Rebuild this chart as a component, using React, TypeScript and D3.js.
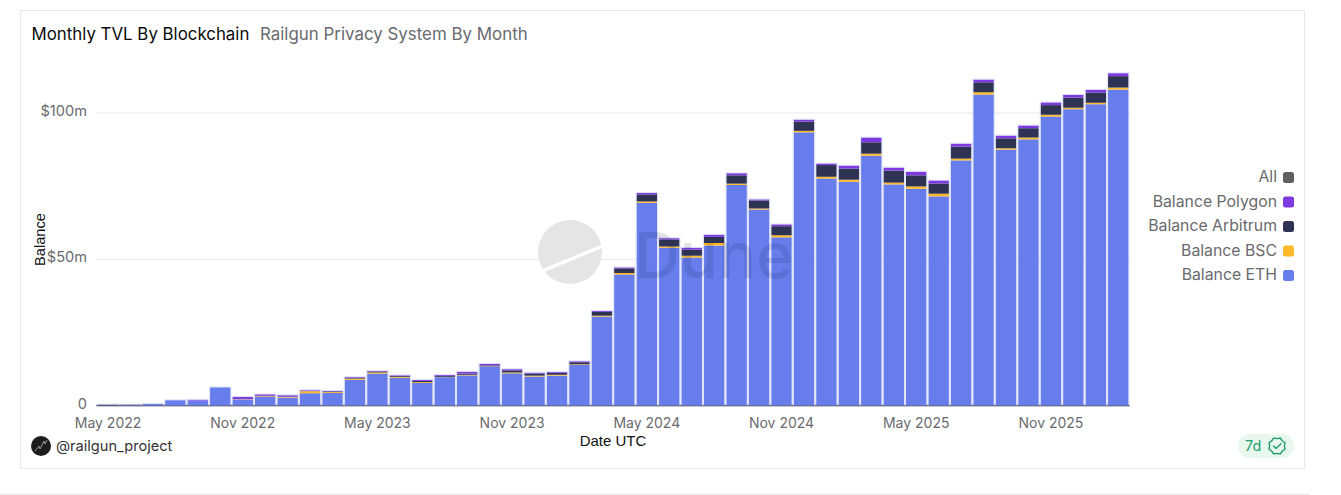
import React from "react";
import * as d3 from "d3";

const months = [
  "May 2022","Jun 2022","Jul 2022","Aug 2022","Sep 2022","Oct 2022","Nov 2022","Dec 2022",
  "Jan 2023","Feb 2023","Mar 2023","Apr 2023","May 2023","Jun 2023","Jul 2023","Aug 2023","Sep 2023","Oct 2023","Nov 2023","Dec 2023",
  "Jan 2024","Feb 2024","Mar 2024","Apr 2024","May 2024","Jun 2024","Jul 2024","Aug 2024","Sep 2024","Oct 2024","Nov 2024","Dec 2024",
  "Jan 2025","Feb 2025","Mar 2025","Apr 2025","May 2025","Jun 2025","Jul 2025","Aug 2025","Sep 2025","Oct 2025","Nov 2025","Dec 2025",
  "Jan 2026","Feb 2026",
];
const balanceEth = [0.1,0.15,0.5,1.8,1.7,6.2,2.1,3.0,2.7,4.2,4.3,8.8,10.9,9.5,7.7,9.7,10.3,13.3,11,9.9,10.2,13.9,30.4,44.8,69.3,53.9,50.6,54.7,75.4,67,57.5,93.4,77.6,76.5,85.4,75.6,74.1,71.5,83.8,106.3,87.5,91,98.8,101.3,103,108];
const balanceBsc = [0,0,0,0,0,0,0.1,0.2,0.2,0.7,0.3,0.4,0.4,0.3,0.3,0.1,0.2,0.1,0.3,0.3,0.3,0.2,0.3,0.5,0.45,0.45,0.6,0.85,0.45,0.35,0.7,0.5,0.6,0.7,0.7,0.6,0.8,0.9,0.6,0.8,0.45,0.6,0.6,0.5,0.5,0.7];
const balanceArbitrum = [0.15,0.1,0,0,0,0,0,0.1,0.1,0,0.2,0.3,0.3,0.3,0.4,0.3,0.4,0.3,0.7,0.7,0.6,0.7,1.3,1.6,2.4,2.4,2.1,2.1,2.85,2.75,3.1,3.2,4,3.8,3.9,4.1,3.8,3.5,4.1,3.4,3.4,3.2,3.3,3.5,3.5,3.9];
const balancePolygon = [0,0,0,0,0.25,0,0.7,0.5,0.5,0.3,0.2,0.2,0.2,0.2,0.3,0.3,0.6,0.5,0.4,0.3,0.3,0.3,0.3,0.3,0.5,0.45,0.6,0.7,0.7,0.35,0.6,0.6,0.5,1,1.6,1,1.2,1,1,0.9,0.9,0.9,0.9,0.9,0.9,1];
const seriesKeys = ["eth","bsc","arb","poly"];
const seriesColors: Record<string,string> = { eth:"#667deb", bsc:"#fdb927", arb:"#2e3353", poly:"#7c3ae0" };
const legendItems = [
  { label:"All", color:"#5f5f63" },
  { label:"Balance Polygon", color:"#7c3ae0" },
  { label:"Balance Arbitrum", color:"#2e3353" },
  { label:"Balance BSC", color:"#fdb927" },
  { label:"Balance ETH", color:"#667deb" },
];
const xTickLabels = ["May 2022","Nov 2022","May 2023","Nov 2023","May 2024","Nov 2024","May 2025","Nov 2025"];
const yTicks = [
  { value:0, label:"0" },
  { value:50, label:"$50m" },
  { value:100, label:"$100m" },
];

const ui = "Inter, 'Noto Sans', sans-serif";
const gray = "#6a6a6e";

export default function App() {
  const rows = months.map((m,i)=>({ month:m, eth:balanceEth[i], bsc:balanceBsc[i], arb:balanceArbitrum[i], poly:balancePolygon[i] }));
  const stacked = d3.stack<any>().keys(seriesKeys)(rows);
  const x = d3.scaleBand<string>().domain(months).range([96.8,1129.5]).paddingInner(0.09).paddingOuter(0.045);
  const y = d3.scaleLinear().domain([0,100]).range([405.5,113]);
  const w = x.bandwidth();
  return (
    <div style={{position:"fixed",left:0,top:0,width:1341,height:495,background:"#fff"}}>
      <svg width={1341} height={495} style={{display:"block"}} fontFamily={ui}>
        <rect x={20.5} y={10.5} width={1284} height={458} fill="#fff" stroke="#e8e8e8" />
        <line x1={0} x2={1309} y1={494.5} y2={494.5} stroke="#e8e8e8" />
        <text x={31.5} y={39.5} fontSize={16.85} fill="#0a0a0a">Monthly TVL By Blockchain</text>
        <text x={260} y={39.5} fontSize={16.9} fill="#6a6a6e">Railgun Privacy System By Month</text>

        {yTicks.filter(t=>t.value>0).map(t=>(
          <line key={t.value} x1={96} x2={1130} y1={y(t.value)} y2={y(t.value)} stroke="#e8e8e8" />
        ))}
        {yTicks.map(t=>(
          <text key={t.label} x={87} y={y(t.value)-0.8} textAnchor="end" dominantBaseline="middle" fontSize={14.6} fill={gray}>{t.label}</text>
        ))}

        <g>
          <circle cx={570} cy={252} r={32} fill="#e5e5e5" />
          <line x1={530} x2={610} y1={276} y2={243} stroke="#fff" strokeWidth={3.5} />
        </g>

        <line x1={96.5} x2={1129.5} y1={405.5} y2={405.5} stroke="#111" strokeWidth={1.4} />

        {stacked.map(s=>(
          <g key={s.key} fill={seriesColors[s.key]}>
            {s.map((d,i)=>{
              const h = y(d[0])-y(d[1]);
              if (h<=0) return null;
              return <rect key={i} x={x(months[i])!} y={y(d[1])} width={w} height={h} />;
            })}
          </g>
        ))}
        {months.map((m,i)=>{
          const top = stacked[stacked.length-1][i][1];
          return <rect key={m} x={x(m)!-0.5} y={y(top)-0.5} width={w+1} height={y(0)-y(top)+1} fill="none" stroke="#c9d1f8" strokeOpacity={0.6} strokeWidth={1} />;
        })}

        <text x={634} y={278} fontSize={63.5} fontWeight={500} fill="#1a1f4a" fillOpacity={0.13}>Dune</text>

        {xTickLabels.map(l=>(
          <text key={l} x={x(l)!+w/2} y={427.5} textAnchor="middle" fontSize={14} fill={gray}>{l}</text>
        ))}
        <text x={613} y={446} textAnchor="middle" fontSize={15} fill="#111" fontFamily="'Liberation Sans', Arial, sans-serif">Date UTC</text>
        <text transform="translate(45,239.5) rotate(-90)" textAnchor="middle" fontSize={14.6} fill="#111" fontFamily="'Liberation Sans', Arial, sans-serif">Balance</text>

        {legendItems.map((l,i)=>{
          const cy = 177.5 + i*24.5;
          return (
            <g key={l.label}>
              <text x={1277} y={cy+0.5} textAnchor="end" dominantBaseline="middle" fontSize={15.8} fill={gray}>{l.label}</text>
              <rect x={1283} y={cy-5.5} width={11} height={11} rx={2.5} fill={l.color} />
            </g>
          );
        })}

        <circle cx={41} cy={446} r={10} fill="#1c1c1c" />
        <path d="M35 451 L39 446 L40 449 L44 441 L45 444 L47 440" fill="none" stroke="#9a9a9a" strokeWidth={1} />
        <text x={56} y={451} fontSize={14.6} fill="#333">@railgun_project</text>

        <rect x={1238} y={434} width={56} height={24} rx={12} fill="#e8f8ee" />
        <text x={1245} y={451} fontSize={14.5} fill="#1f9d6b">7d</text>
        <g fill="none" stroke="#1f9d6b" strokeWidth={1.4}>
          <path d={d3.lineRadial<number>().curve(d3.curveLinearClosed).angle((_,i)=>i*Math.PI/8).radius((_,i)=>i%2?8.6:7.4)(d3.range(16)) ?? ""} transform="translate(1277,446)" />
          <path d="M1273.5 446 L1276 448.5 L1281 443.8" strokeLinecap="round" strokeLinejoin="round" />
        </g>
      </svg>
    </div>
  );
}
